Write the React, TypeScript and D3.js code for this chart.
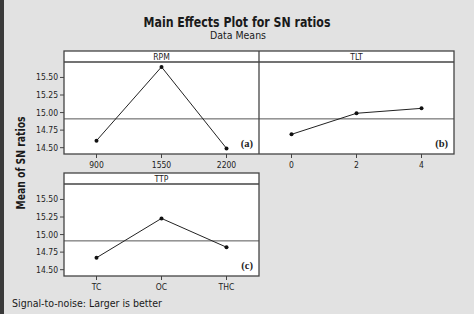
import React from "react";
import * as d3 from "d3";

const rpmLevels = ["900", "1550", "2200"];
const rpmMeans = [14.6, 15.65, 14.49];
const tltLevels = ["0", "2", "4"];
const tltMeans = [14.69, 14.99, 15.06];
const ttpLevels = ["TC", "OC", "THC"];
const ttpMeans = [14.67, 15.23, 14.82];
const yTicks = [14.5, 14.75, 15.0, 15.25, 15.5];
const grandMean = 14.91;

const W = 474;
const H = 314;
const NARROW = "'Liberation Sans Narrow', 'DejaVu Sans Condensed', sans-serif";

type PanelProps = {
  x0: number;
  x1: number;
  top: number;
  bottom: number;
  title: string;
  levels: string[];
  values: number[];
  tag: string;
  showY: boolean;
};

function Panel({ x0, x1, top, bottom, title, levels, values, tag, showY }: PanelProps) {
  const stripH = 11;
  const plotTop = top + stripH;
  const x = d3.scalePoint<string>().domain(levels).range([x0, x1]).padding(0.5);
  const y = d3.scaleLinear().domain([14.41, 15.72]).range([bottom, plotTop]);
  const line = d3
    .line<number>()
    .x((_, i) => x(levels[i]) as number)
    .y((d) => y(d));
  return (
    <g>
      <rect x={x0} y={top} width={x1 - x0} height={bottom - top} fill="#ffffff" />
      <line x1={x0} x2={x1} y1={plotTop} y2={plotTop} stroke="#444" strokeWidth={1.3} />
      <text x={(x0 + x1) / 2} y={top + 8.5} textAnchor="middle" fontFamily={NARROW} fontSize={8.5} fill="#222">
        {title}
      </text>
      <line x1={x0} x2={x1} y1={y(grandMean)} y2={y(grandMean)} stroke="#555" strokeWidth={1} />
      <path d={line(values) || ""} fill="none" stroke="#222" strokeWidth={1} />
      {values.map((v, i) => (
        <circle key={i} cx={x(levels[i]) as number} cy={y(v)} r={2} fill="#111" />
      ))}
      {levels.map((l) => (
        <g key={l}>
          <line x1={x(l) as number} x2={x(l) as number} y1={bottom} y2={bottom + 4} stroke="#444" strokeWidth={1} />
          <text x={x(l) as number} y={bottom + 13.5} textAnchor="middle" fontFamily={NARROW} fontSize={8.5} fill="#222">
            {l}
          </text>
        </g>
      ))}
      {showY &&
        yTicks.map((t) => (
          <g key={t}>
            <line x1={x0 - 4} x2={x0} y1={y(t)} y2={y(t)} stroke="#444" strokeWidth={1} />
            <text x={x0 - 6} y={y(t) + 3} textAnchor="end" fontFamily={NARROW} fontSize={8.5} fill="#222">
              {d3.format(".2f")(t)}
            </text>
          </g>
        ))}
      <text
        x={x1 - 6}
        y={bottom - 7.5}
        textAnchor="end"
        fontFamily="'Liberation Serif', 'DejaVu Serif', serif"
        fontWeight="bold"
        fontSize={10.5}
        fill="#222"
      >
        {tag}
      </text>
    </g>
  );
}

export default function App() {
  const topRow = { top: 51, bottom: 154 };
  const botRow = { top: 173, bottom: 276 };
  return (
    <svg width={W} height={H} style={{ position: "absolute", left: 0, top: 0 }}>
      <rect x={0} y={0} width={W} height={H} fill="#e2e2e2" />
      <rect x={0} y={0} width={4} height={H} fill="#3a3a3a" />
      <text
        x={237}
        y={27}
        textAnchor="middle"
        fontFamily={NARROW}
        fontWeight="bold"
        fontSize={14}
        fill="#1a1a1a"
        textLength={187}
        lengthAdjust="spacingAndGlyphs"
      >
        Main Effects Plot for SN ratios
      </text>
      <text
        x={238}
        y={39}
        textAnchor="middle"
        fontFamily={NARROW}
        fontSize={10}
        fill="#1a1a1a"
        textLength={56}
        lengthAdjust="spacingAndGlyphs"
      >
        Data Means
      </text>
      <text
        transform="translate(25,163) rotate(-90)"
        textAnchor="middle"
        fontFamily={NARROW}
        fontWeight="bold"
        fontSize={11.5}
        fill="#1a1a1a"
        textLength={93}
        lengthAdjust="spacingAndGlyphs"
      >
        Mean of SN ratios
      </text>
      <Panel x0={64} x1={259} top={topRow.top} bottom={topRow.bottom} title="RPM" levels={rpmLevels} values={rpmMeans} tag="(a)" showY={true} />
      <Panel x0={259} x1={454} top={topRow.top} bottom={topRow.bottom} title="TLT" levels={tltLevels} values={tltMeans} tag="(b)" showY={false} />
      <rect x={64} y={topRow.top} width={390} height={topRow.bottom - topRow.top} fill="none" stroke="#444" strokeWidth={1.3} />
      <line x1={259} x2={259} y1={topRow.top} y2={topRow.bottom} stroke="#444" strokeWidth={1.3} />
      <Panel x0={64} x1={259} top={botRow.top} bottom={botRow.bottom} title="TTP" levels={ttpLevels} values={ttpMeans} tag="(c)" showY={true} />
      <rect x={64} y={botRow.top} width={195} height={botRow.bottom - botRow.top} fill="none" stroke="#444" strokeWidth={1.3} />
      <text
        x={12}
        y={307}
        fontFamily={NARROW}
        fontSize={10.5}
        fill="#1a1a1a"
        textLength={150}
        lengthAdjust="spacingAndGlyphs"
      >
        Signal-to-noise: Larger is better
      </text>
    </svg>
  );
}
